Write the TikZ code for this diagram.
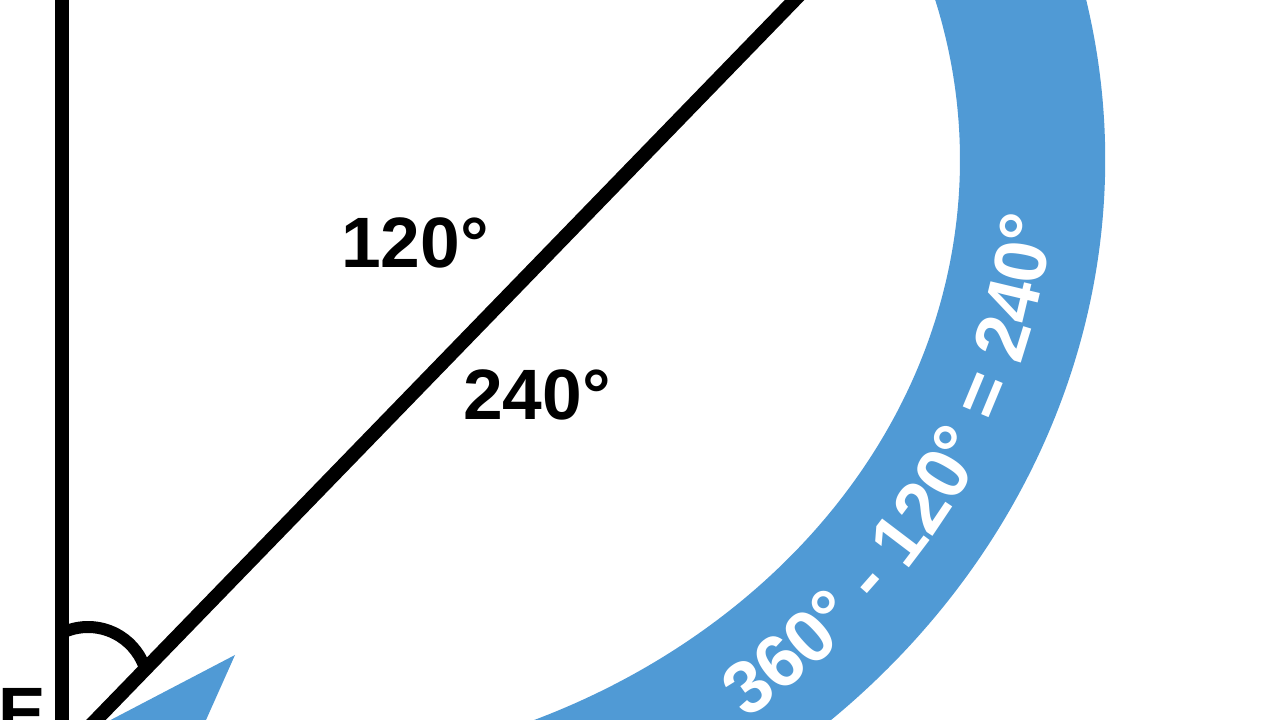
\documentclass[tikz,border=0pt]{standalone}
\usepackage{fontspec}
\setmainfont{Liberation Sans}
\usetikzlibrary{decorations.text}
\definecolor{arcblue}{RGB}{80,154,213}

\begin{document}
\begin{tikzpicture}[
			% 黑色的粗线
			ray/.style={line width=0.14cm, black},
			% 角上的小弧
			anglemark/.style={line width=0.12cm, black},
			% 度数标签
			deglabel/.style={font=\bfseries\fontsize{20.3pt}{21pt}\selectfont, inner sep=0pt},
			% 蓝色的弧形箭头
			bigarrow/.style={fill=arcblue, draw=none}
		]
		\useasboundingbox (0,0) rectangle (12.8,7.2);
		\clip (0,0) rectangle (12.8,7.2);

		% 蓝色箭头, 椭圆的中心在 centre
		\coordinate             (centre)        at (2.50,5.60);
		\coordinate             (barb1)         at (2.35,0.65);
		\coordinate             (tip)           at (0.80,-0.16);
		\coordinate             (barb2)         at (1.06,-2.34);
		\fill[bigarrow, shift={(centre)}] (25:8.55 and 7.63)
			arc[start angle=25, end angle=-98.6, x radius=8.55, y radius=7.63]
			-- (barb2) -- (tip) -- (barb1) -- (-95.3:7.10 and 6.11)
			arc[start angle=-95.3, end angle=25, x radius=7.10, y radius=6.11] -- cycle;
		% 沿着弧写的白字
		\path[shift={(centre)}, decorate, decoration={text along path, text align=center, text color=white,
				text={|\bfseries\fontsize{21pt}{21pt}\selectfont|360° - 120° = 240°}}]
			(-57.5:8.05 and 7.10) arc[start angle=-57.5, end angle=1.5, x radius=8.05, y radius=7.10];

		%Nodes
		\coordinate             (vertex)        at (0.62,-0.35);
		\coordinate             (up)            at (0.62,7.40);
		\coordinate             (rayend)        at (8.14,7.40);
		\coordinate             (markcentre)    at (0.88,0.33);
		\node[deglabel]         (small)         at (4.15,4.77)                  {120°};
		\node[deglabel]         (big)           at (5.37,3.25)                  {240°};
		\node[deglabel]         (labelE)        at (0.22,0.075)                 {E};

		%Lines
		\draw[ray] (vertex)         --            (up);
		\draw[ray] (vertex)         --            (rayend);
		% 角的标记
		\draw[anglemark] (markcentre) ++(118:0.6) arc[start angle=118, end angle=15, radius=0.6];
	\end{tikzpicture}
\end{document}
